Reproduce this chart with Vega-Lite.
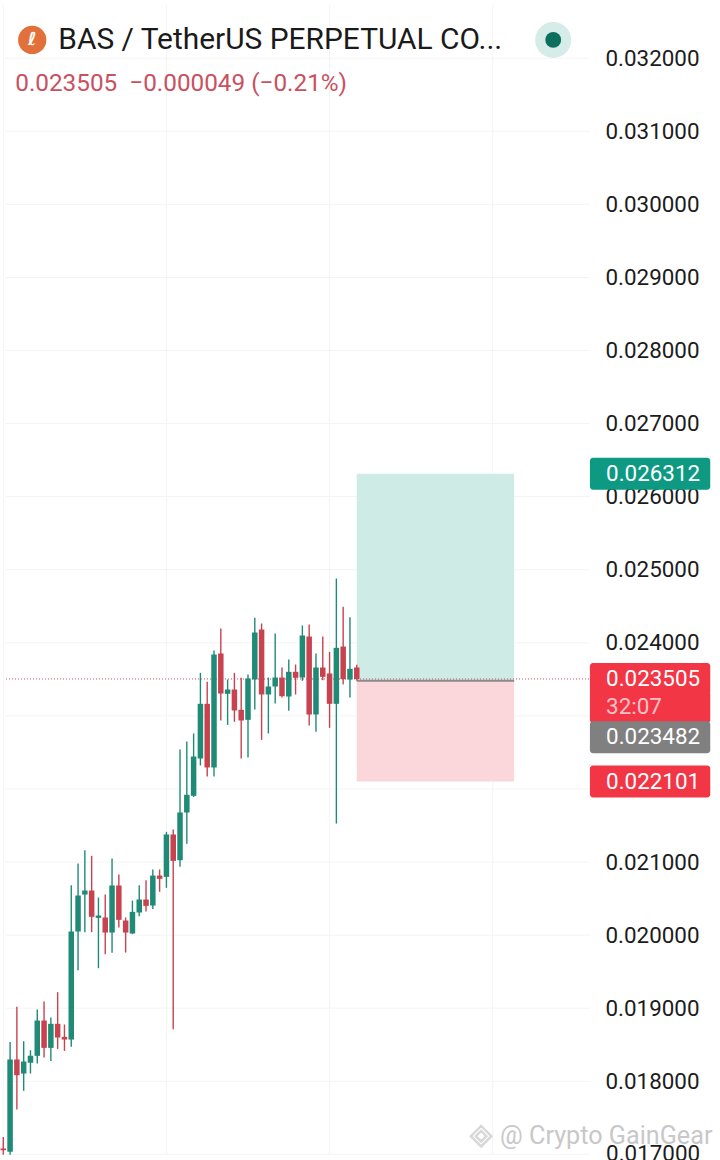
{
  "$schema": "https://vega.github.io/schema/vega-lite/v6.json",
  "width": 720,
  "height": 1160,
  "padding": 0,
  "autosize": {"type": "fit", "contains": "padding"},
  "background": "#ffffff",
  "config": {"view": {"stroke": null}, "text": {"font": "Roboto"}},
  "resolve": {"scale": {"fill": "independent"}},
  "datasets": {
    "candles": [
      {"i":0,"o":0.01708,"h":0.017239,"l":0.016995,"c":0.017057,"dir":"down"},
      {"i":1,"o":0.017034,"h":0.018539,"l":0.016995,"c":0.018298,"dir":"up"},
      {"i":2,"o":0.018298,"h":0.019018,"l":0.017613,"c":0.018083,"dir":"down"},
      {"i":3,"o":0.018106,"h":0.018548,"l":0.017869,"c":0.01827,"dir":"up"},
      {"i":4,"o":0.018252,"h":0.018425,"l":0.018106,"c":0.018348,"dir":"up"},
      {"i":5,"o":0.018348,"h":0.018982,"l":0.018243,"c":0.018831,"dir":"up"},
      {"i":6,"o":0.018831,"h":0.019091,"l":0.018325,"c":0.018457,"dir":"down"},
      {"i":7,"o":0.018457,"h":0.018872,"l":0.018279,"c":0.018786,"dir":"up"},
      {"i":8,"o":0.018786,"h":0.019219,"l":0.018443,"c":0.018599,"dir":"down"},
      {"i":9,"o":0.018608,"h":0.018777,"l":0.018416,"c":0.018571,"dir":"down"},
      {"i":10,"o":0.018571,"h":0.020683,"l":0.018471,"c":0.020049,"dir":"up"},
      {"i":11,"o":0.020049,"h":0.02098,"l":0.01952,"c":0.020542,"dir":"up"},
      {"i":12,"o":0.020555,"h":0.021162,"l":0.02004,"c":0.02061,"dir":"up"},
      {"i":13,"o":0.02061,"h":0.021085,"l":0.02004,"c":0.02025,"dir":"down"},
      {"i":14,"o":0.020236,"h":0.020514,"l":0.019547,"c":0.020268,"dir":"up"},
      {"i":15,"o":0.020241,"h":0.020555,"l":0.019739,"c":0.020035,"dir":"down"},
      {"i":16,"o":0.020035,"h":0.021048,"l":0.019757,"c":0.020679,"dir":"up"},
      {"i":17,"o":0.020679,"h":0.020829,"l":0.020104,"c":0.020209,"dir":"down"},
      {"i":18,"o":0.0202,"h":0.020241,"l":0.019762,"c":0.020035,"dir":"down"},
      {"i":19,"o":0.020022,"h":0.020473,"l":0.020013,"c":0.020318,"dir":"up"},
      {"i":20,"o":0.020309,"h":0.020683,"l":0.020259,"c":0.020487,"dir":"up"},
      {"i":21,"o":0.020487,"h":0.020752,"l":0.020323,"c":0.0204,"dir":"down"},
      {"i":22,"o":0.020405,"h":0.020898,"l":0.020359,"c":0.020815,"dir":"up"},
      {"i":23,"o":0.020815,"h":0.020898,"l":0.020592,"c":0.02077,"dir":"down"},
      {"i":24,"o":0.020797,"h":0.021413,"l":0.020647,"c":0.021377,"dir":"up"},
      {"i":25,"o":0.021377,"h":0.021445,"l":0.018713,"c":0.021016,"dir":"down"},
      {"i":26,"o":0.021025,"h":0.02254,"l":0.020934,"c":0.021678,"dir":"up"},
      {"i":27,"o":0.021678,"h":0.022649,"l":0.02125,"c":0.02192,"dir":"up"},
      {"i":28,"o":0.021906,"h":0.022759,"l":0.02189,"c":0.022444,"dir":"up"},
      {"i":29,"o":0.022417,"h":0.023589,"l":0.022321,"c":0.023165,"dir":"up"},
      {"i":30,"o":0.023165,"h":0.023466,"l":0.02217,"c":0.022294,"dir":"down"},
      {"i":31,"o":0.022294,"h":0.023895,"l":0.02217,"c":0.02384,"dir":"up"},
      {"i":32,"o":0.023854,"h":0.024196,"l":0.022937,"c":0.023306,"dir":"down"},
      {"i":33,"o":0.023302,"h":0.023498,"l":0.022877,"c":0.023361,"dir":"up"},
      {"i":34,"o":0.023361,"h":0.023589,"l":0.022919,"c":0.023074,"dir":"down"},
      {"i":35,"o":0.023083,"h":0.023521,"l":0.022417,"c":0.022937,"dir":"down"},
      {"i":36,"o":0.022946,"h":0.023566,"l":0.02243,"c":0.023512,"dir":"up"},
      {"i":37,"o":0.023498,"h":0.024342,"l":0.023087,"c":0.024141,"dir":"up"},
      {"i":38,"o":0.024182,"h":0.024264,"l":0.022672,"c":0.023293,"dir":"down"},
      {"i":39,"o":0.023293,"h":0.023525,"l":0.022759,"c":0.023402,"dir":"up"},
      {"i":40,"o":0.023402,"h":0.024127,"l":0.023169,"c":0.023525,"dir":"up"},
      {"i":41,"o":0.023525,"h":0.023662,"l":0.023252,"c":0.02327,"dir":"down"},
      {"i":42,"o":0.023265,"h":0.023772,"l":0.023069,"c":0.023603,"dir":"up"},
      {"i":43,"o":0.023603,"h":0.023703,"l":0.023293,"c":0.023521,"dir":"down"},
      {"i":44,"o":0.023525,"h":0.024237,"l":0.02348,"c":0.0241,"dir":"up"},
      {"i":45,"o":0.024086,"h":0.024251,"l":0.022868,"c":0.023019,"dir":"down"},
      {"i":46,"o":0.023019,"h":0.023854,"l":0.022782,"c":0.023662,"dir":"up"},
      {"i":47,"o":0.023662,"h":0.024086,"l":0.023489,"c":0.023534,"dir":"down"},
      {"i":48,"o":0.02358,"h":0.023876,"l":0.022836,"c":0.023165,"dir":"down"},
      {"i":49,"o":0.023165,"h":0.02488,"l":0.021527,"c":0.023931,"dir":"up"},
      {"i":50,"o":0.023949,"h":0.024492,"l":0.023429,"c":0.023502,"dir":"down"},
      {"i":51,"o":0.023498,"h":0.024351,"l":0.023252,"c":0.023644,"dir":"up"},
      {"i":52,"o":0.023662,"h":0.023699,"l":0.023484,"c":0.023505,"dir":"down"}
    ],
    "levels": [
      {"p":0.017},{"p":0.018},{"p":0.019},{"p":0.02},{"p":0.021},{"p":0.022},{"p":0.023},{"p":0.024},
      {"p":0.025},{"p":0.026},{"p":0.027},{"p":0.028},{"p":0.029},{"p":0.03},{"p":0.031},{"p":0.032}
    ],
    "sessions": [{"i":0},{"i":24},{"i":48},{"i":72}],
    "position": [
      {"from":0.023482,"to":0.026312,"dir":"up"},
      {"from":0.022101,"to":0.023482,"dir":"down"}
    ],
    "tags": [
      {"label":"0.026312","at":0.026312,"kind":"target","ink":"#ffffff"},
      {"label":"0.023505","at":0.023505,"kind":"last","ink":"#ffffff"},
      {"label":"32:07","at":0.02312,"kind":"last","ink":"#ffc2c8"},
      {"label":"0.023482","at":0.022708,"kind":"entry","ink":"#ffffff"},
      {"label":"0.022101","at":0.022101,"kind":"stop","ink":"#ffffff"}
    ]
  },
  "layer": [
    {
      "data": {"name": "levels"},
      "mark": {"type": "rule", "stroke": "#f4f4f4", "strokeWidth": 1},
      "encoding": {
        "x": {"datum": 0.4, "type": "quantitative", "scale": {"domain": [0.4, 104.7]}, "axis": null},
        "x2": {"datum": 86.3},
        "y": {
          "field": "p", "type": "quantitative",
          "scale": {"domain": [0.016991, 0.032728]},
          "axis": {
            "orient": "right", "offset": -115, "title": null, "domain": false, "ticks": false, "grid": false,
            "values": [0.018,0.019,0.02,0.021,0.022,0.023,0.024,0.025,0.026,0.027,0.028,0.029,0.03,0.031,0.032],
            "format": ".6f", "labelFont": "Roboto", "labelFontSize": 22.4, "labelColor": "#1c1c1c",
            "labelPadding": 0, "labelAlign": "left", "labelBaseline": "middle", "labelOverlap": false, "labelFlush": false, "labelBound": false
          }
        }
      }
    },
    {
      "data": {"values": [{"t": "0.017000", "p": 0.017}]},
      "mark": {"type": "text", "align": "left", "baseline": "middle", "fontSize": 22.4, "color": "#1c1c1c", "clip": true},
      "encoding": {
        "x": {"datum": 88.68, "type": "quantitative", "scale": {"domain": [0.4, 104.7]}, "axis": null},
        "y": {"field": "p", "type": "quantitative", "scale": {"domain": [0.016991, 0.032728]}},
        "text": {"field": "t"}
      }
    },
    {
      "data": {"name": "sessions"},
      "mark": {"type": "rule", "stroke": "#f4f4f4", "strokeWidth": 1},
      "encoding": {
        "x": {"field": "i", "type": "quantitative", "scale": {"domain": [0.4, 104.7]}, "axis": null},
        "y": {"datum": 0.016991, "type": "quantitative", "scale": {"domain": [0.016991, 0.032728]}},
        "y2": {"datum": 0.032728}
      }
    },
    {
      "data": {"name": "position"},
      "mark": {"type": "rect"},
      "encoding": {
        "x": {"datum": 52, "type": "quantitative", "scale": {"domain": [0.4, 104.7]}, "axis": null},
        "x2": {"datum": 75.15},
        "y": {"field": "from", "type": "quantitative", "scale": {"domain": [0.016991, 0.032728]}},
        "y2": {"field": "to"},
        "color": {"field": "dir", "type": "nominal", "legend": null, "scale": {"domain": ["up", "down"], "range": ["#cfebe5", "#fbd6da"]}}
      }
    },
    {
      "data": {"values": [{"p": 0.023482}]},
      "mark": {"type": "rule", "stroke": "#8a8a8a", "strokeWidth": 2},
      "encoding": {
        "x": {"datum": 52, "type": "quantitative", "scale": {"domain": [0.4, 104.7]}, "axis": null},
        "x2": {"datum": 75.15},
        "y": {"field": "p", "type": "quantitative", "scale": {"domain": [0.016991, 0.032728]}}
      }
    },
    {
      "data": {"values": [{"p": 0.023505}]},
      "mark": {"type": "rule", "stroke": "#c9515f", "strokeWidth": 1, "strokeDash": [1, 2]},
      "encoding": {
        "x": {"datum": 0.4, "type": "quantitative", "scale": {"domain": [0.4, 104.7]}, "axis": null},
        "x2": {"datum": 86.3},
        "y": {"field": "p", "type": "quantitative", "scale": {"domain": [0.016991, 0.032728]}}
      }
    },
    {
      "data": {"name": "candles"},
      "mark": {"type": "rule", "strokeWidth": 1.4},
      "encoding": {
        "x": {"field": "i", "type": "quantitative", "scale": {"domain": [0.4, 104.7]}, "axis": null},
        "y": {"field": "h", "type": "quantitative", "scale": {"domain": [0.016991, 0.032728]}},
        "y2": {"field": "l"},
        "stroke": {"field": "dir", "type": "nominal", "legend": null, "scale": {"domain": ["up", "down"], "range": ["#1f8a76", "#c8434f"]}}
      }
    },
    {
      "data": {"name": "candles"},
      "mark": {"type": "bar", "orient": "vertical", "size": 5.5},
      "encoding": {
        "x": {"field": "i", "type": "quantitative", "scale": {"domain": [0.4, 104.7]}, "axis": null},
        "y": {"field": "o", "type": "quantitative", "scale": {"domain": [0.016991, 0.032728]}},
        "y2": {"field": "c"},
        "fill": {"field": "dir", "type": "nominal", "legend": null, "scale": {"domain": ["up", "down"], "range": ["#1f8a76", "#c8434f"]}}
      }
    },
    {
      "data": {"name": "tags"},
      "mark": {"type": "bar", "orient": "horizontal", "size": 32, "cornerRadius": 3},
      "encoding": {
        "x": {"datum": 86.3, "type": "quantitative", "scale": {"domain": [0.4, 104.7]}, "axis": null},
        "x2": {"datum": 104},
        "y": {"field": "at", "type": "quantitative", "scale": {"domain": [0.016991, 0.032728]}},
        "fill": {
          "field": "kind", "type": "nominal", "legend": null,
          "scale": {"domain": ["target", "last", "entry", "stop"], "range": ["#0e9a82", "#f23645", "#808080", "#f23645"]}
        }
      }
    },
    {
      "data": {"name": "tags"},
      "mark": {"type": "text", "align": "left", "baseline": "middle", "fontSize": 22.4},
      "encoding": {
        "x": {"datum": 88.68, "type": "quantitative", "scale": {"domain": [0.4, 104.7]}, "axis": null},
        "y": {"field": "at", "type": "quantitative", "scale": {"domain": [0.016991, 0.032728]}},
        "text": {"field": "label"},
        "color": {"field": "ink", "type": "nominal", "scale": null}
      }
    },
    {
      "data": {"values": [{"i": 4.26, "p": 0.03225, "ink": "#e2703a", "r": 800}, {"i": 80.9, "p": 0.03225, "ink": "#d5ece8", "r": 1300}, {"i": 80.9, "p": 0.03225, "ink": "#0b6e5f", "r": 250}]},
      "mark": {"type": "point", "filled": true, "shape": "circle", "opacity": 1},
      "encoding": {
        "x": {"field": "i", "type": "quantitative", "scale": {"domain": [0.4, 104.7]}, "axis": null},
        "y": {"field": "p", "type": "quantitative", "scale": {"domain": [0.016991, 0.032728]}},
        "color": {"field": "ink", "type": "nominal", "scale": null},
        "size": {"field": "r", "type": "quantitative", "scale": null}
      }
    },
    {
      "data": {"values": [{"t": "ℓ", "i": 4.26, "p": 0.03225}]},
      "mark": {"type": "text", "align": "center", "baseline": "middle", "fontSize": 18, "fontWeight": "bold", "font": "DejaVu Sans", "color": "#ffffff"},
      "encoding": {
        "x": {"field": "i", "type": "quantitative", "scale": {"domain": [0.4, 104.7]}, "axis": null},
        "y": {"field": "p", "type": "quantitative", "scale": {"domain": [0.016991, 0.032728]}},
        "text": {"field": "t"}
      }
    },
    {
      "data": {"values": [{"t": "BAS / TetherUS PERPETUAL CO...", "i": 8.09, "p": 0.032245}]},
      "mark": {"type": "text", "align": "left", "baseline": "middle", "fontSize": 29.9, "color": "#1a1a1a"},
      "encoding": {
        "x": {"field": "i", "type": "quantitative", "scale": {"domain": [0.4, 104.7]}, "axis": null},
        "y": {"field": "p", "type": "quantitative", "scale": {"domain": [0.016991, 0.032728]}},
        "text": {"field": "t"}
      }
    },
    {
      "data": {"values": [{"t": "0.023505\u00a0 −0.000049 (−0.21%)", "i": 1.76, "p": 0.031644}]},
      "mark": {"type": "text", "align": "left", "baseline": "middle", "fontSize": 24.3, "color": "#c9515f"},
      "encoding": {
        "x": {"field": "i", "type": "quantitative", "scale": {"domain": [0.4, 104.7]}, "axis": null},
        "y": {"field": "p", "type": "quantitative", "scale": {"domain": [0.016991, 0.032728]}},
        "text": {"field": "t"}
      }
    },
    {
      "data": {"values": [{"t": "@ Crypto GainGear", "i": 73.09, "p": 0.017248}]},
      "mark": {"type": "text", "align": "left", "baseline": "middle", "fontSize": 25.2, "color": "#c8c8c8"},
      "encoding": {
        "x": {"field": "i", "type": "quantitative", "scale": {"domain": [0.4, 104.7]}, "axis": null},
        "y": {"field": "p", "type": "quantitative", "scale": {"domain": [0.016991, 0.032728]}},
        "text": {"field": "t"}
      }
    },
    {
      "data": {"values": [{"i": 70.3, "p": 0.017248, "r": 420}, {"i": 70.3, "p": 0.017248, "r": 110}]},
      "mark": {"type": "point", "shape": "diamond", "stroke": "#d8d8d8", "strokeWidth": 2.5, "filled": false, "opacity": 1},
      "encoding": {
        "x": {"field": "i", "type": "quantitative", "scale": {"domain": [0.4, 104.7]}, "axis": null},
        "y": {"field": "p", "type": "quantitative", "scale": {"domain": [0.016991, 0.032728]}},
        "size": {"field": "r", "type": "quantitative", "scale": null}
      }
    }
  ]
}
